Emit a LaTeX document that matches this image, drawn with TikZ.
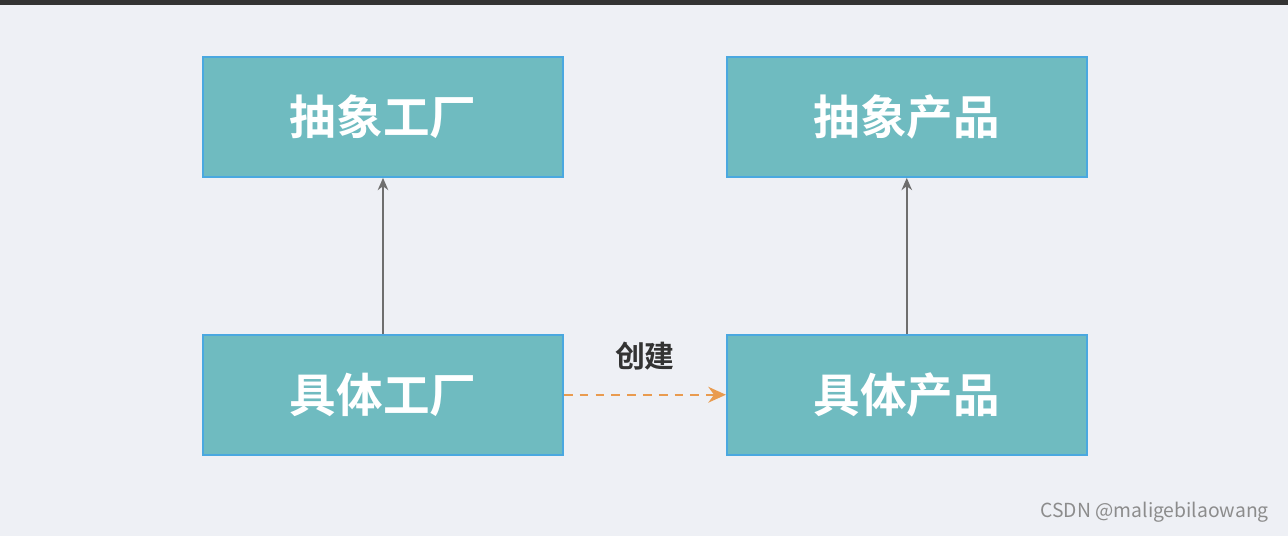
\documentclass[tikz,border=0pt]{standalone}
\usepackage{fontspec}
\usepackage{xcolor}
\usepackage{tikz}
\usetikzlibrary{positioning,arrows.meta}
\newfontfamily\cjk{Noto Sans CJK SC}
\newfontfamily\cjkbold{Noto Sans CJK SC Bold}
\definecolor{boxfill}{HTML}{6FBBC0}
\definecolor{boxline}{HTML}{4AA8E0}
\definecolor{bgcol}{HTML}{EEF0F5}
\definecolor{arrowgray}{HTML}{6E6E6E}
\definecolor{dashorange}{HTML}{E99B4F}

\begin{document}
\begin{tikzpicture}[
	box/.style={
		draw=boxline, fill=boxfill, line width=1pt,
		minimum width=7.2cm, minimum height=2.4cm,
		text=white, font=\cjkbold\fontsize{26.5}{26.5}\selectfont
	},
	inherit/.style={draw=arrowgray, line width=0.9pt, -{Stealth[length=7pt,width=6pt]}},
	create/.style={draw=dashorange, line width=1pt, dash pattern=on 5pt off 4pt, -{Stealth[length=10pt,width=9pt]}}
	]
	% background
	\fill[bgcol] (0,0) rectangle (25.76,10.72);
	\fill[black!80] (0,10.62) rectangle (25.76,10.72);
	\useasboundingbox (0,0) rectangle (25.76,10.72);

	\node[box] (absfactory) at (7.66,8.38) {抽象工厂};
	\node[box, below=3.12cm of absfactory] (confactory) {具体工厂};
	\node[box, right=3.24cm of absfactory] (absproduct) {抽象产品};
	\node[box, below=3.12cm of absproduct] (conproduct) {具体产品};

	\draw[inherit] (confactory) -- (absfactory);
	\draw[inherit] (conproduct) -- (absproduct);
	\draw[create] (confactory) -- node[above=0.35cm, text=black!80, font=\cjkbold\fontsize{17}{17}\selectfont] (createlabel) {创建} (conproduct);

	\node[anchor=south east, text=black!45, font=\cjk\fontsize{11}{11}\selectfont] (mark) at (25.5,0.15) {CSDN @maligebilaowang};
\end{tikzpicture}
\end{document}
